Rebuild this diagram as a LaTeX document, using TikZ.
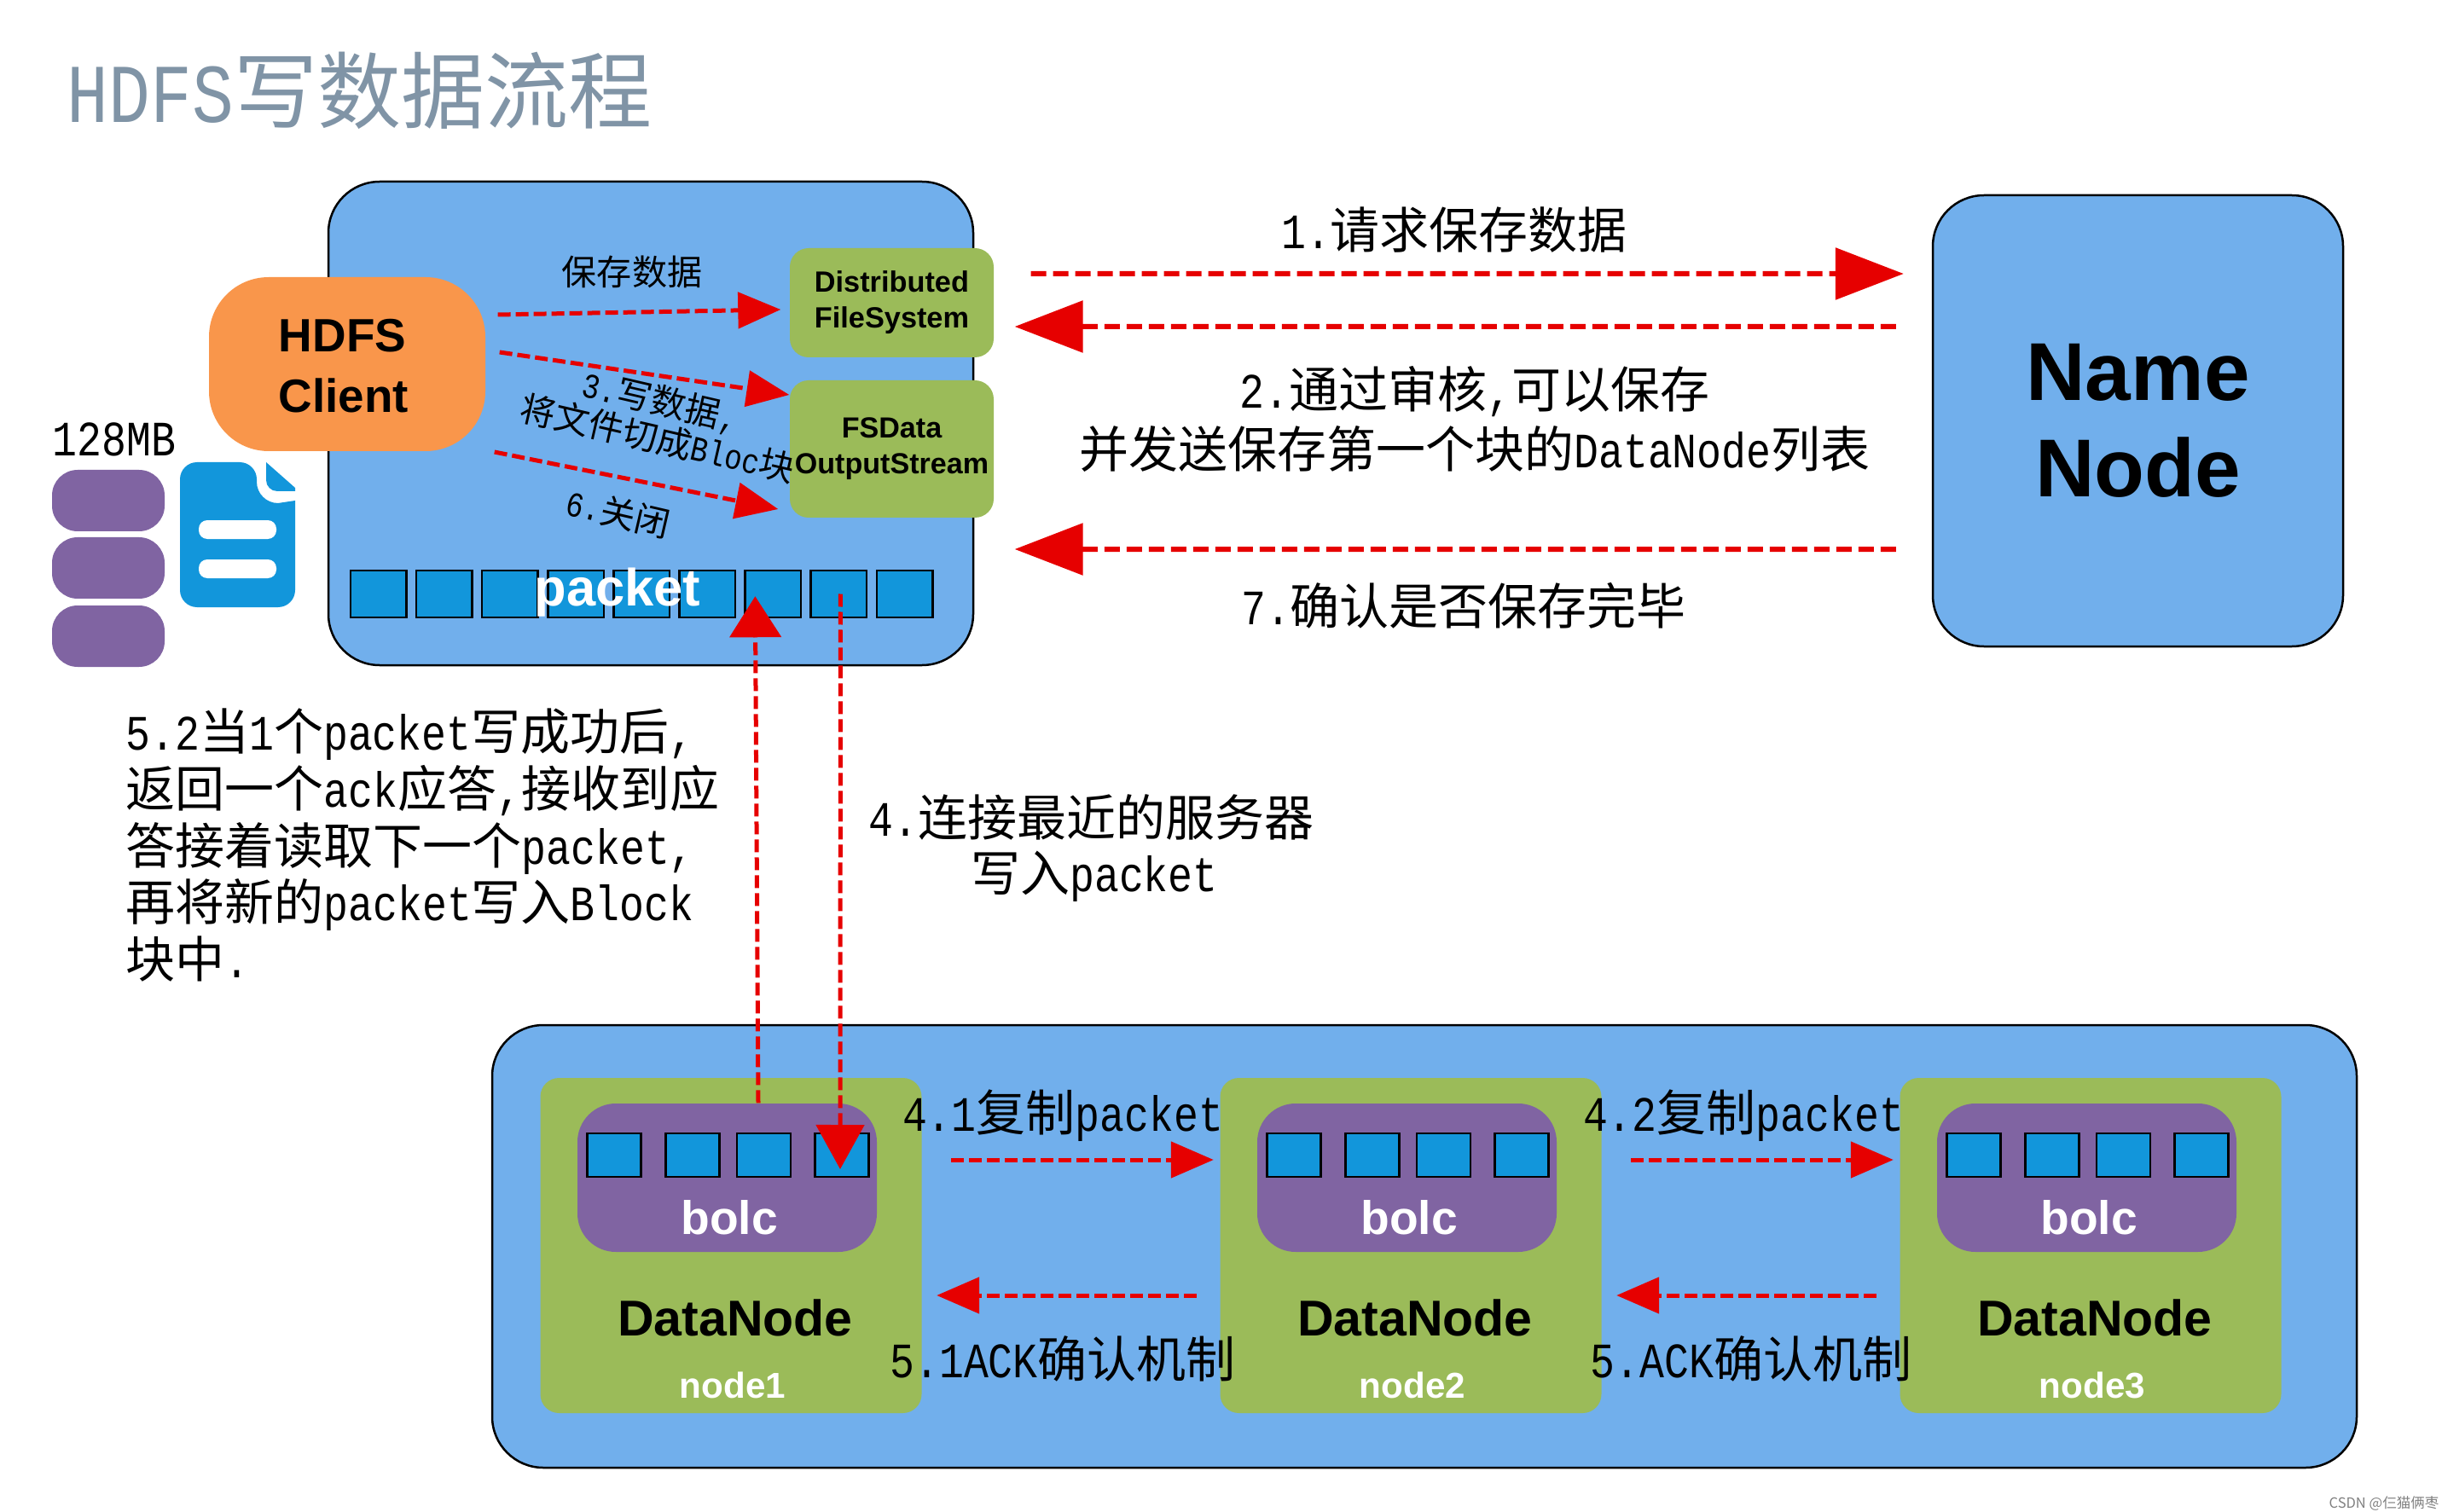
\documentclass[tikz,border=0pt]{standalone}
\usepackage{fontspec}
\setmainfont{Noto Sans CJK SC}
\setsansfont{Liberation Sans}
\newfontfamily\latn[FakeStretch=0.83]{Liberation Mono}
\newcommand{\en}[1]{{\latn #1}}
\usepackage{xcolor}
\usepackage{tikz}
\usetikzlibrary{arrows.meta}
\definecolor{panelblue}{HTML}{71AFEC}
\definecolor{boxgreen}{HTML}{9BBB59}
\definecolor{boxorange}{HTML}{F9964B}
\definecolor{boxpurple}{HTML}{8064A2}
\definecolor{tileblue}{HTML}{1296DB}
\definecolor{linered}{HTML}{E60000}
\definecolor{headgray}{HTML}{8094A6}
\tikzstyle{panel} = [rectangle, rounded corners=0.6cm, draw=black, line width=0.025cm, fill=panelblue, inner sep=0]
\tikzstyle{greenbox} = [rectangle, rounded corners=0.22cm, fill=boxgreen, inner sep=0, minimum width=2.39cm]
\tikzstyle{pill} = [rectangle, rounded corners=0.3cm, fill=boxpurple, inner sep=0, minimum width=1.32cm, minimum height=0.72cm]
\tikzstyle{tile} = [rectangle, draw=black, line width=0.025cm, fill=tileblue, inner sep=0]
\tikzstyle{bigtxt} = [inner sep=0, font=\fontsize{16.5}{19}\selectfont]
\tikzstyle{smalltxt} = [inner sep=0, font=\fontsize{11.7}{14}\selectfont]
\tikzstyle{arrow} = [line width=0.06cm, dash pattern=on 0.18cm off 0.08cm, color=linered, -{Triangle[length=0.8cm,width=0.6cm]}]
\tikzstyle{midarrow} = [line width=0.05cm, dash pattern=on 0.15cm off 0.06cm, color=linered, -{Triangle[length=0.5cm,width=0.42cm]}]
\begin{document}
\begin{tikzpicture}
    \useasboundingbox (0,0) rectangle (28.63,-17.73);
    \node (headline) [inner sep=0, anchor=west, text=headgray, font=\fontsize{27.9}{30}\selectfont] at (0.78,-1.06) {\en{HDFS}写数据流程};

    % client side
    \node (upper) [panel, minimum width=7.56cm, minimum height=5.67cm] at (7.63,-4.965) {};
    \node (client) [rectangle, rounded corners=0.7cm, fill=boxorange, inner sep=0, minimum width=3.24cm, minimum height=2.04cm] at (4.07,-4.27) {};
    \node (clienttxt) [inner sep=0, align=left, font=\fontsize{15.6}{20.2}\selectfont\sffamily\bfseries] at (4.03,-4.29) {HDFS\\Client};
    \node (dfs) [greenbox, minimum height=1.28cm, align=left, font=\fontsize{9.76}{12}\selectfont\sffamily\bfseries] at (10.455,-3.55) {Distributed\\FileSystem};
    \node (fsdata) [greenbox, minimum height=1.61cm, align=center, font=\fontsize{9.7}{12}\selectfont\sffamily\bfseries] at (10.455,-5.265) {FSData\\OutputStream};

    \foreach \i in {0,...,8}
        \node (p\i) [tile, minimum width=0.655cm, minimum height=0.55cm] at ({4.4375+0.771*\i},-6.965) {};
    \node (packet) [inner sep=0, text=white, font=\fontsize{17.5}{20}\selectfont\sffamily\bfseries] at (7.24,-6.95) {packet};

    % 128MB file
    \node (size) [bigtxt] at (1.34,-5.15) {\en{128MB}};
    \node (pill1) [pill] at (1.27,-5.87) {};
    \node (pill2) [pill, below of=pill1, node distance=0.79cm] {};
    \node (pill3) [pill, below of=pill2, node distance=0.80cm] {};
    \fill [tileblue, rounded corners=0.2cm] (2.11,-5.42) -- (3.01,-5.42) [sharp corners] -- (3.01,-5.65) arc (180:270:0.25) -- (3.46,-5.87) [rounded corners=0.2cm] -- (3.46,-7.12) -- (2.11,-7.12) -- cycle;
    \fill [tileblue] (3.12,-5.42) -- (3.46,-5.72) -- (3.46,-5.76) -- (3.25,-5.76) arc (270:180:0.13) -- cycle;
    \fill [white, rounded corners=0.1cm] (2.33,-6.10) rectangle (3.24,-6.32);
    \fill [white, rounded corners=0.1cm] (2.33,-6.56) rectangle (3.24,-6.78);

    % namenode
    \node (name) [panel, minimum width=4.81cm, minimum height=5.29cm, align=center, font=\fontsize{27.4}{32.1}\selectfont\sffamily\bfseries] at (25.065,-4.935) {Name\\Node};

    % datanodes
    \node (lower) [panel, minimum width=21.86cm, minimum height=5.19cm] at (16.70,-14.615) {};
    \foreach \i/\x in {1/8.57,2/16.54,3/24.51} {
        \node (dn\i) [greenbox, minimum width=4.47cm, minimum height=3.93cm] at (\x,-14.605) {};
        \node (bolc\i) [rectangle, rounded corners=0.45cm, fill=boxpurple, minimum width=3.51cm, minimum height=1.74cm, inner sep=0] at ([xshift=-0.045cm,yshift=0.795cm]dn\i.center) {};
        \foreach \j/\dx in {1/-1.325,2/-0.405,3/0.43,4/1.345}
            \node (b\i\j) [tile, minimum width=0.63cm, minimum height=0.51cm] at ([xshift=\dx cm,yshift=0.265cm]bolc\i.center) {};
        \node (bt\i) [inner sep=0, text=white, font=\fontsize{15.7}{18}\selectfont\sffamily\bfseries] at ([xshift=-0.02cm,yshift=0.33cm]dn\i.center) {bolc};
        \node (dt\i) [inner sep=0, font=\fontsize{16.8}{20}\selectfont\sffamily\bfseries] at ([xshift=0.05cm,yshift=-0.85cm]dn\i.center) {DataNode};
        \node (nt\i) [inner sep=0, text=white, font=\fontsize{12}{14}\selectfont\sffamily\bfseries] at ([xshift=0.02cm,yshift=-1.635cm]dn\i.center) {node\i};
    }

    \draw [midarrow] ([xshift=0.14cm,yshift=0.58cm]client.east) -- ([xshift=-0.10cm,yshift=-0.08cm]dfs.west);
    \draw [midarrow] ([xshift=0.16cm,yshift=0.14cm]client.east) -- ([yshift=0.635cm]fsdata.west);
    \draw [midarrow] ([xshift=0.10cm,yshift=-1.03cm]client.east) -- ([xshift=-0.13cm,yshift=-0.705cm]fsdata.west);

    \draw [arrow] ([xshift=0.43cm,yshift=0.34cm]dfs.east) -- ([xshift=-0.33cm,yshift=1.725cm]name.west);
    \draw [arrow] ([xshift=-0.42cm,yshift=1.105cm]name.west) -- ([xshift=0.24cm,yshift=-0.28cm]dfs.east);
    \draw [arrow] ([xshift=-0.42cm,yshift=-1.505cm]name.west) -- ([xshift=0.24cm,yshift=-1.175cm]fsdata.east);

    \draw [midarrow, -{Triangle[length=0.48cm,width=0.6cm]}] ([xshift=0.365cm]bolc1.north) -- ([xshift=-0.21cm,yshift=0.26cm]p6.south);
    \draw [midarrow, -{Triangle[length=0.52cm,width=0.56cm]}] ([xshift=0.02cm]p7.center) -- ([xshift=-0.02cm,yshift=-0.165cm]b14.center);

    \foreach \a/\b in {1/2,2/3} {
        \draw [midarrow] ([xshift=0.34cm,yshift=1.005cm]dn\a.east) -- ([xshift=-0.07cm,yshift=1.005cm]dn\b.west);
        \draw [midarrow] ([xshift=-0.27cm,yshift=-0.585cm]dn\b.west) -- ([xshift=0.17cm,yshift=-0.585cm]dn\a.east);
    }

    % labels
    \node (savetxt) [smalltxt] at (7.41,-3.19) {保存数据};
    \node (writetxt) [smalltxt, rotate=-13] at (7.74,-4.72) {\en{3.}写数据\en{,}};
    \node (cuttxt) [smalltxt, rotate=-13] at (7.71,-5.14) {将文件切成\en{Bloc}块};
    \node (closetxt) [smalltxt, rotate=-13] at (7.25,-6.02) {\en{6.}关闭};
    \node (reqtxt) [bigtxt] at (17.05,-2.70) {\en{1.}请求保存数据};
    \node (passtxt) [bigtxt] at (17.29,-4.59) {\en{2.}通过审核\en{,}可以保存};
    \node (listtxt) [bigtxt] at (17.29,-5.27) {并发送保存第一个块的\en{DataNode}列表};
    \node (donetxt) [bigtxt] at (17.16,-7.10) {\en{7.}确认是否保存完毕};
    \node (acktxt) [bigtxt, anchor=north west, align=left] at (1.47,-8.30) {\en{5.2}当\en{1}个\en{packet}写成功后\en{,}\\返回一个\en{ack}应答\en{,}接收到应\\答接着读取下一个\en{packet,}\\再将新的\en{packet}写入\en{Block}\\块中\en{.}};
    \node (conntxt) [bigtxt, anchor=west] at (10.18,-9.58) {\en{4.}连接最近的服务器};
    \node (puttxt) [bigtxt] at (12.83,-10.28) {写入\en{packet}};
    \node (copy1) [bigtxt] at (12.46,-13.08) {\en{4.1}复制\en{packet}};
    \node (copy2) [bigtxt] at (20.44,-13.08) {\en{4.2}复制\en{packet}};
    \node (ack1) [bigtxt] at (12.46,-15.93) {\en{5.1ACK}确认机制};
    \node (ack2) [bigtxt] at (20.53,-15.93) {\en{5.ACK}确认机制};
    \node (mark) [inner sep=0, anchor=east, text=black!50, font=\fontsize{4.7}{6}\selectfont] at (28.60,-17.63) {CSDN @仨猫俩枣};
\end{tikzpicture}
\end{document}
